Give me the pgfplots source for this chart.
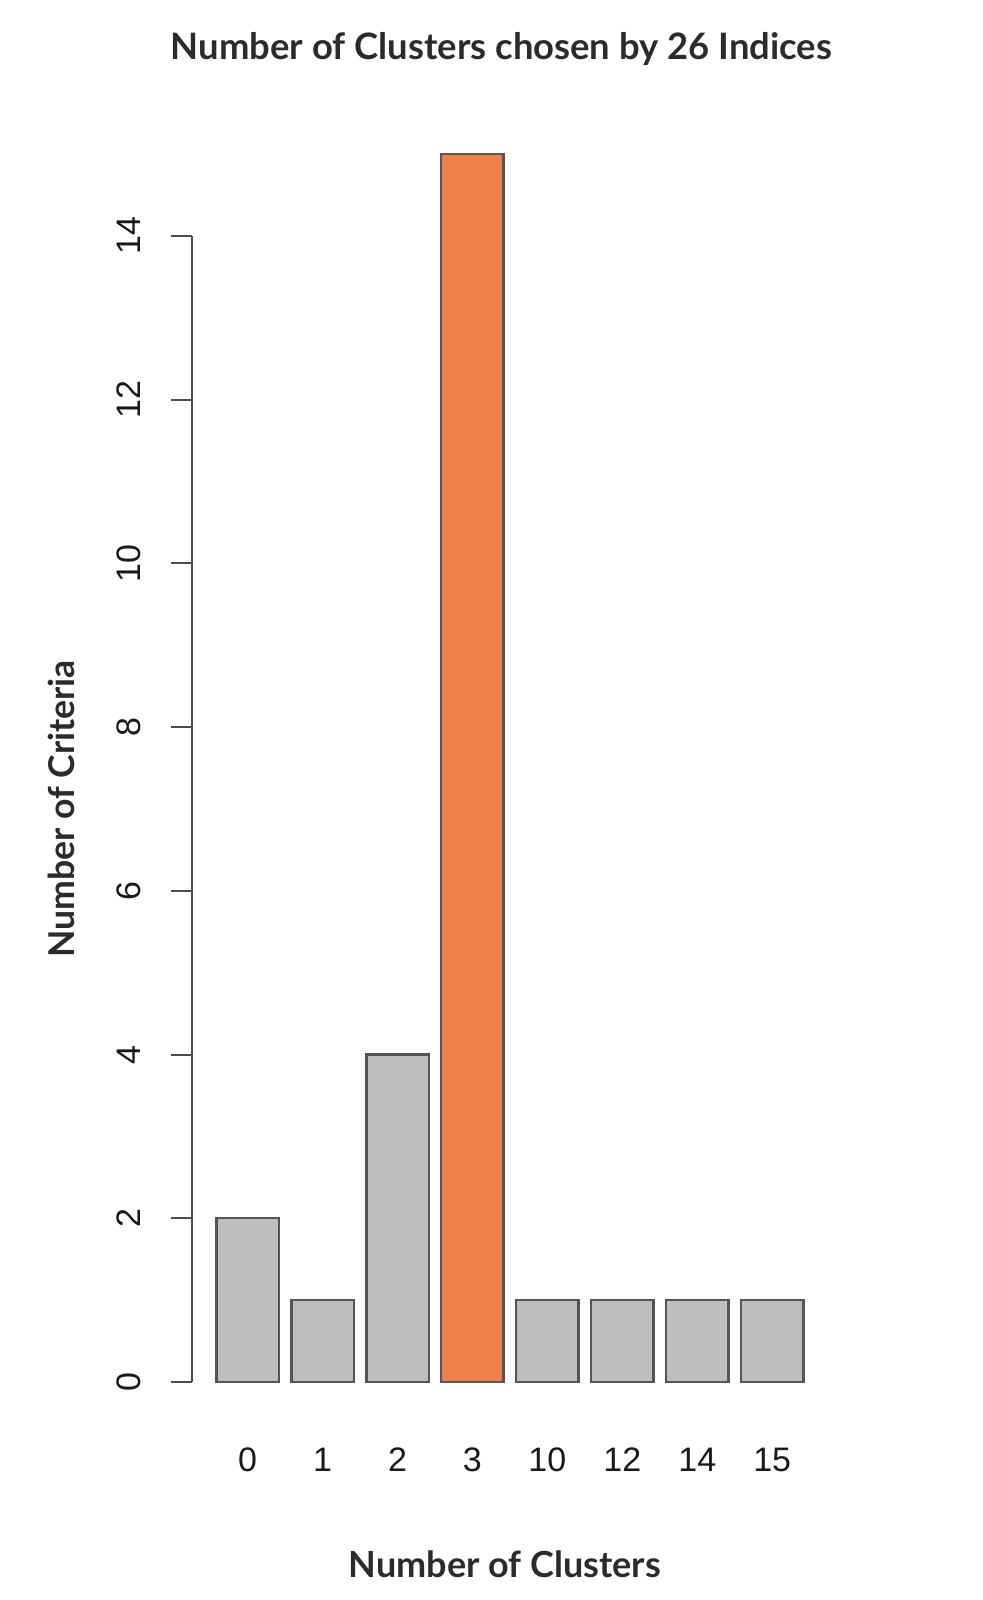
\documentclass[border=0pt]{standalone}
\usepackage{pgfplots}
\pgfplotsset{compat=1.18}
\usepackage{fontspec}
\setmainfont{Liberation Sans}
\newfontfamily\labelfont{Lato}

\definecolor{barfill}{HTML}{BEBEBE}
\definecolor{baredge}{HTML}{555555}
\definecolor{hilite}{HTML}{F0814A}
\definecolor{txt}{HTML}{2B2B2B}

\begin{document}
\begin{tikzpicture}
\path[use as bounding box] (0,0) rectangle (491.5pt,800pt);
\begin{axis}[
  at={(96pt,109pt)}, anchor=south west,
  scale only axis,
  width=312.6pt, height=573pt,
  xmin=-0.742, xmax=7.6,
  ymin=0, ymax=14,
  clip=false,
  axis x line*=bottom, axis y line*=left,
  x axis line style={draw=none},
  y axis line style={line width=1pt, color=black!70, -},
  xtick={0,...,7},
  xticklabels={0,1,2,3,10,12,14,15},
  xtick style={draw=none},
  ytick={0,2,...,14},
  ytick style={line width=1pt, color=black!70},
  tick align=outside,
  major tick length=10.5pt,
  /pgf/number format/assume math mode=true,
  ticklabel style={font=\fontsize{17}{20}\selectfont, color=black!90},
  xticklabel style={yshift=-19pt},
  yticklabel style={rotate=90, anchor=south, yshift=11.7pt},
  title={\labelfont\bfseries\fontsize{18.2}{21}\selectfont Number of Clusters chosen by 26 Indices},
  title style={at={(axis description cs:0.495,1.1525)}, anchor=center, color=txt},
  xlabel={\labelfont\bfseries\fontsize{18}{21}\selectfont Number of Clusters},
  xlabel style={at={(axis description cs:0.5006,-0.1588)}, anchor=center, color=txt},
  ylabel={\labelfont\bfseries\fontsize{17.8}{21}\selectfont Number of Criteria},
  ylabel style={at={(axis description cs:-0.2095,0.5)}, anchor=center, color=txt},
  ybar, bar width=31.2pt,
]
% counts per chosen number of clusters
\addplot[bar shift=0pt, fill=barfill, draw=baredge, line width=1.2pt]
  coordinates {(0,2) (1,1) (2,4) (4,1) (5,1) (6,1) (7,1)};
\addplot[bar shift=0pt, fill=hilite, draw=baredge, line width=1.2pt]
  coordinates {(3,15)};
\end{axis}
\end{tikzpicture}
\end{document}
